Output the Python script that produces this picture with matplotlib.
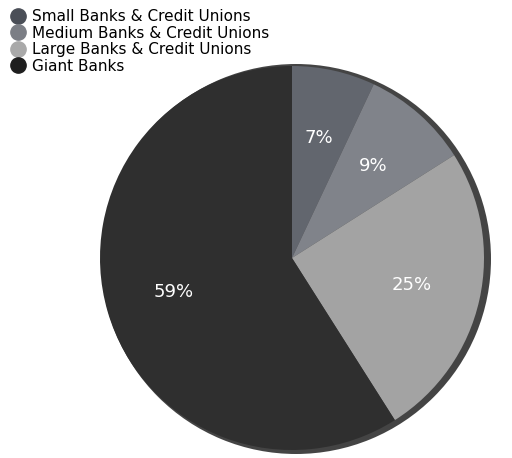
import matplotlib
matplotlib.use("Agg")
import matplotlib.pyplot as plt
from matplotlib.lines import Line2D

categories = ["Small Banks & Credit Unions", "Medium Banks & Credit Unions",
              "Large Banks & Credit Unions", "Giant Banks"]
values = [7, 9, 25, 59]
colors = ["#62666e", "#80838a", "#a3a3a3", "#2f2f2f"]
legend_colors = ["#4a4e57", "#7b7e85", "#a9a9a9", "#1e1e1e"]

fig = plt.figure(figsize=(5.12, 4.58), dpi=100)
ax = fig.add_axes([0, 0, 1, 1])

cx, cy, r = 292, 458 - 258, 192
ax.pie([1], colors=["#444444"], radius=r + 3, center=(cx + 4, cy - 1),
       startangle=90, frame=True)
wedges, texts, autotexts = ax.pie(
    values, colors=colors, radius=r, center=(cx, cy), startangle=90,
    counterclock=False, autopct=lambda p: f"{round(p)}%", pctdistance=0.64,
    frame=True, textprops=dict(color="white", fontsize=13),
    wedgeprops=dict(linewidth=0))
ax.set_xlim(0, 512)
ax.set_ylim(0, 458)
ax.set_aspect("auto")
ax.axis("off")

handles = [Line2D([], [], marker="o", linestyle="", markersize=11,
                  markerfacecolor=c, markeredgecolor=c) for c in legend_colors]
fig.legend(handles, categories, loc="upper left", bbox_to_anchor=(0.0, 1.0),
           frameon=False, fontsize=11, handletextpad=0.3, labelspacing=0.1,
           borderaxespad=0.2, handlelength=1.2)

fig.savefig("out.png", dpi=100)
